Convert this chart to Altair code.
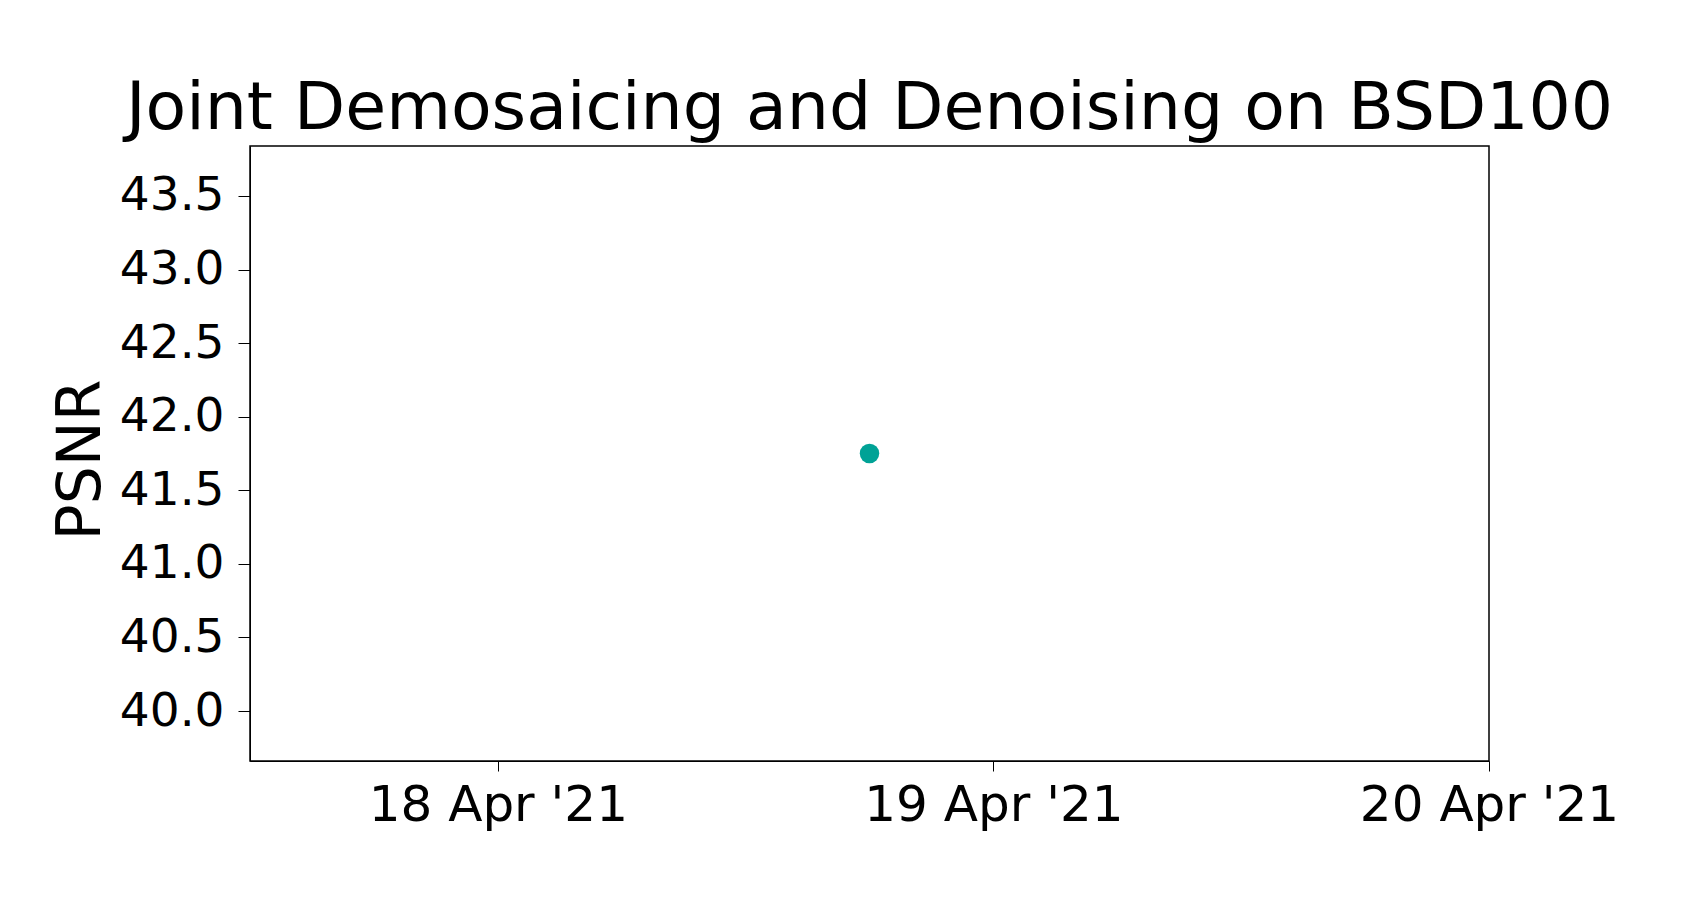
import altair as alt
import pandas as pd

dates = ["2021-04-18T18:00:00Z"]
psnr = [41.75]
y_ticks = [40.0, 40.5, 41.0, 41.5, 42.0, 42.5, 43.0, 43.5]

df = pd.DataFrame({"date": dates, "psnr": psnr})

FONT = "DejaVu Sans"

x_vals = [alt.DateTime(year=2021, month=4, date=d, utc=True) for d in (18, 19, 20)]
x_dom = [alt.DateTime(year=2021, month=4, date=17, hours=12, utc=True),
         alt.DateTime(year=2021, month=4, date=20, utc=True)]

chart = alt.Chart(df).mark_circle(size=380, color="#00A296", opacity=1).encode(
    x=alt.X("date:T", title=None,
            scale=alt.Scale(type="utc", domain=x_dom),
            axis=alt.Axis(values=x_vals,
                          labelExpr="utcFormat(datum.value, \"%d %b '%y\")",
                          labelFontSize=50, labelFont=FONT, labelColor="black",
                          tickColor="black", domainColor="black", tickSize=10,
                          labelPadding=9, grid=False, labelFlush=False,
                          labelOverlap=False, labelLimit=600)),
    y=alt.Y("psnr:Q", title="PSNR",
            scale=alt.Scale(domain=[39.661, 43.839], nice=False, zero=False),
            axis=alt.Axis(values=y_ticks, format=".1f",
                          labelFontSize=47, labelFont=FONT, labelColor="black",
                          tickColor="black", domainColor="black", tickSize=12,
                          labelPadding=14, grid=False, titleFontSize=60,
                          titleFont=FONT, titleFontWeight="normal",
                          titleColor="black", titlePadding=7, titleY=313.5)),
).properties(
    width=1239, height=615,
    title=alt.TitleParams("Joint Demosaicing and Denoising on BSD100",
                          font=FONT, fontSize=66.5, fontWeight="normal",
                          color="black", anchor="middle", offset=4),
    autosize=alt.AutoSizeParams(type="none"),
    padding={"left": 242, "top": 138, "right": 200, "bottom": 130},
).configure_view(stroke="black", strokeWidth=1.5)

chart.save("out.html", embed_options={"renderer": "svg", "actions": False})
